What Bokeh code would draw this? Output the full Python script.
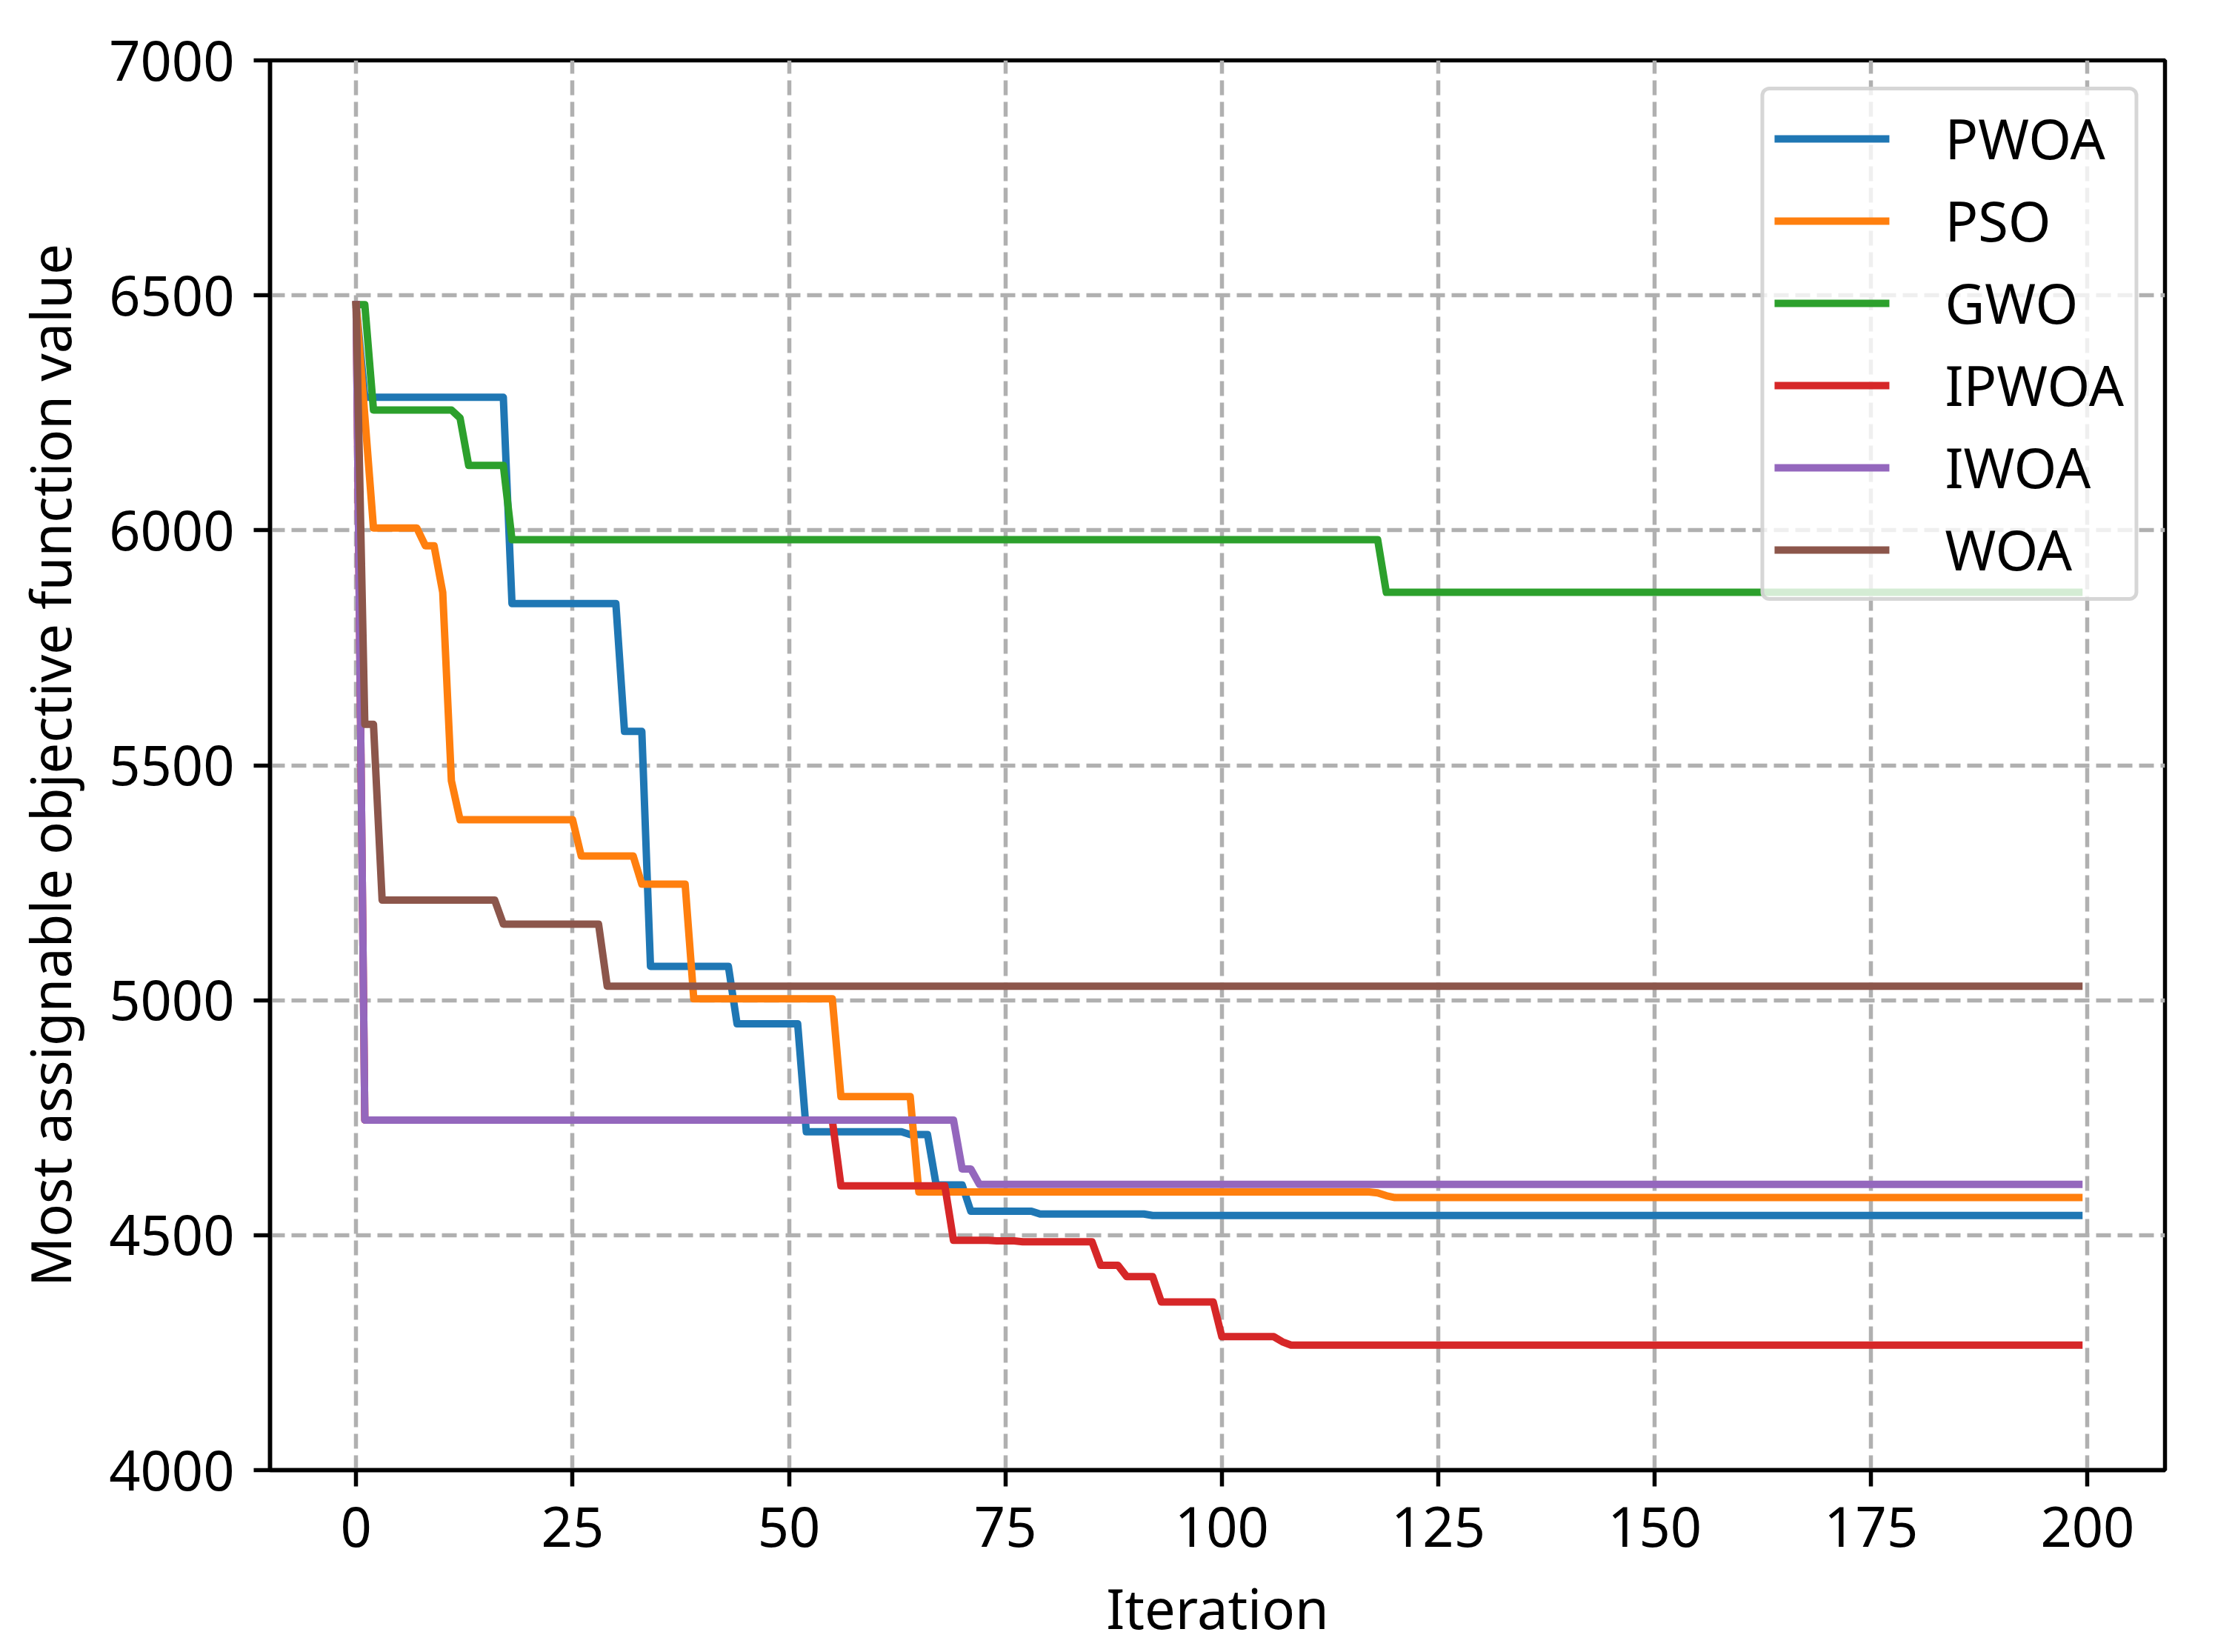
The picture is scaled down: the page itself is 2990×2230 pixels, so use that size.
from bokeh.plotting import figure
from bokeh.models import Range1d, FixedTicker, Legend, LegendItem
from bokeh.embed import file_html
from bokeh.resources import INLINE

# ---- data: iterations where each best-so-far curve bends, and its values ----
series_names = ["PWOA", "PSO", "GWO", "IPWOA", "IWOA", "WOA"]
series_colors = ["#1f77b4", "#ff7f0e", "#2ca02c", "#d62728", "#9467bd", "#8c564b"]

pwoa_iter = [0, 1, 17, 18, 30, 31, 33, 34, 43, 44, 51, 52, 63, 64, 66, 67, 70, 71, 78, 79, 91, 92, 199]
pwoa_val = [6480, 6283, 6283, 5844, 5844, 5572, 5572, 5072, 5072, 4950, 4950, 4720, 4720, 4714, 4714,
            4607, 4607, 4551, 4551, 4545, 4545, 4542, 4542]

pso_iter = [0, 1, 2, 7, 8, 9, 10, 11, 12, 25, 26, 32, 33, 38, 39, 55, 56, 64, 65, 117, 118, 119, 120, 199]
pso_val = [6480, 6243, 6005, 6005, 5967, 5967, 5868, 5467, 5384, 5384, 5307, 5307, 5247, 5247, 5003,
           5003, 4795, 4795, 4592, 4592, 4590, 4584, 4580, 4580]

gwo_iter = [0, 1, 2, 11, 12, 13, 17, 18, 118, 119, 199]
gwo_val = [6480, 6480, 6256, 6256, 6239, 6138, 6138, 5980, 5980, 5868, 5868]

ipwoa_iter = [0, 1, 55, 56, 68, 69, 73, 74, 76, 77, 85, 86, 88, 89, 92, 93, 99, 100, 106, 107, 108, 199]
ipwoa_val = [6480, 4745, 4745, 4605, 4605, 4489, 4489, 4488, 4488, 4486, 4486, 4436, 4436, 4412, 4412,
             4358, 4358, 4284, 4284, 4273, 4266, 4266]

iwoa_iter = [0, 1, 69, 70, 71, 72, 199]
iwoa_val = [6480, 4745, 4745, 4641, 4641, 4608, 4608]

woa_iter = [0, 1, 2, 3, 16, 17, 28, 29, 199]
woa_val = [6480, 5587, 5587, 5213, 5213, 5162, 5162, 5030, 5030]

x_ticks = [0, 25, 50, 75, 100, 125, 150, 175, 200]
y_ticks = [4000, 4500, 5000, 5500, 6000, 6500, 7000]
x_label = "Iteration"
y_label = "Most assignable objective function value"

FONT = "Noto Sans"
FS = "74px"

p = figure(frame_width=2558, frame_height=1903, output_backend="svg", toolbar_location=None,
           x_range=Range1d(-9.95, 208.95), y_range=Range1d(4000, 7000),
           min_border_left=364, min_border_right=60, min_border_top=81, min_border_bottom=236)

p.background_fill_color = "white"
p.border_fill_color = "white"
p.outline_line_color = "black"
p.outline_line_width = 5.5

p.xaxis.ticker = FixedTicker(ticks=x_ticks)
p.yaxis.ticker = FixedTicker(ticks=y_ticks)
p.xaxis.axis_label = x_label
p.yaxis.axis_label = y_label

for ax in (p.xaxis[0], p.yaxis[0]):
    ax.axis_line_color = "black"
    ax.axis_line_width = 5.5
    ax.major_tick_out = 22
    ax.major_tick_in = 0
    ax.major_tick_line_width = 5.5
    ax.major_tick_line_color = "black"
    ax.minor_tick_out = 0
    ax.minor_tick_in = 0
    ax.major_label_text_font = FONT
    ax.major_label_text_font_size = FS
    ax.major_label_text_color = "black"
    ax.axis_label_text_font = FONT
    ax.axis_label_text_font_size = FS
    ax.axis_label_text_font_style = "normal"
    ax.axis_label_text_color = "black"

p.xaxis.major_label_standoff = 27
p.yaxis.major_label_standoff = 26
p.xaxis.axis_label_standoff = 29
p.yaxis.axis_label_standoff = 26

for g in (p.xgrid[0], p.ygrid[0]):
    g.grid_line_color = "#b0b0b0"
    g.grid_line_dash = "20 9"
    g.grid_line_width = 5.5

xs = [pwoa_iter, pso_iter, gwo_iter, ipwoa_iter, iwoa_iter, woa_iter]
ys = [pwoa_val, pso_val, gwo_val, ipwoa_val, iwoa_val, woa_val]

items = []
for name, color, xv, yv in zip(series_names, series_colors, xs, ys):
    r = p.line(xv, yv, line_color=color, line_width=10, line_join="round", line_cap="square")
    items.append(LegendItem(label=name, renderers=[r]))

legend = Legend(items=items, location="top_right")
legend.margin = 36
legend.padding = 14
legend.spacing = 10
legend.glyph_width = 155
legend.glyph_height = 60
legend.label_height = 60
legend.label_standoff = 75
legend.label_text_font = FONT
legend.label_text_font_size = FS
legend.label_text_color = "black"
legend.border_line_color = "#cccccc"
legend.border_line_width = 5
legend.border_line_alpha = 0.8
legend.background_fill_color = "white"
legend.background_fill_alpha = 0.8
if "border_radius" in Legend.properties():
    legend.border_radius = 12
p.add_layout(legend)

open("out.html", "w").write(file_html(p, INLINE))
